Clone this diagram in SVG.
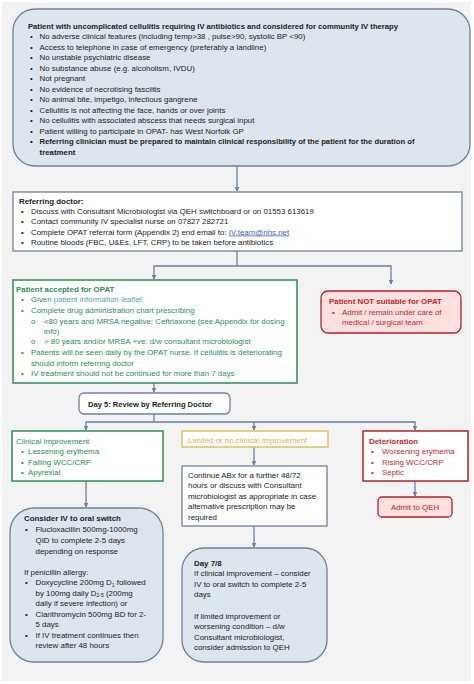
<svg xmlns="http://www.w3.org/2000/svg" width="474" height="684" viewBox="0 0 474 684">
<defs>
<marker id="ah" viewBox="0 0 8 8" refX="7" refY="4" markerWidth="5" markerHeight="5" orient="auto" markerUnits="userSpaceOnUse"><path d="M0,0 L8,4 L0,8 z" fill="#6a80a0"/></marker>
<style>
text{font-family:"Liberation Sans",Arial,sans-serif;font-size:7.9px;fill:#222}
.b{font-weight:bold}
.g{fill:#2e8b57}
.r{fill:#c0282d}
.y{fill:#d8b34a}
.lk{fill:#4aa3c4}
.u{fill:#4a5fa8;text-decoration:underline}
.bl{fill:#dde5ef;stroke:#6f8199;stroke-width:1.3}
.wb{fill:#fff;stroke:#6f8199;stroke-width:1.3}
.gb{fill:#fff;stroke:#2e8b57;stroke-width:1.5}
.rb{fill:#fde0e0;stroke:#b0252d;stroke-width:1.3}
.rw{fill:#fff;stroke:#b0252d;stroke-width:1.5}
.yb{fill:#fff;stroke:#e0c060;stroke-width:1.5}
.c{fill:none;stroke:#6a80a0;stroke-width:1.3}
</style>
</defs>
<rect x="0" y="0" width="474" height="684" fill="#fff"/>
<rect x="2" y="2" width="469" height="679" fill="#f3f3f3"/>

<g id="connectors">
<path class="c" d="M237,166 V191" marker-end="url(#ah)"/>
<path class="c" d="M237,251 V266 H154 V279" marker-end="url(#ah)"/>
<path class="c" d="M237,266 H391 V284" marker-end="url(#ah)"/>
<path class="c" d="M154,383 V392" marker-end="url(#ah)"/>
<path class="c" d="M154,414 V422 H86 V430" marker-end="url(#ah)"/>
<path class="c" d="M154,422 H415 V430" marker-end="url(#ah)"/>
<path class="c" d="M254,422 V430" marker-end="url(#ah)"/>
<path class="c" d="M86,481 V507" marker-end="url(#ah)"/>
<path class="c" d="M254,447 V465" marker-end="url(#ah)"/>
<path class="c" d="M254,526 V547" marker-end="url(#ah)"/>
<path class="c" d="M415,481 V496" marker-end="url(#ah)"/>
</g>

<g id="criteria">
<rect class="bl" x="13" y="9" width="457" height="157" rx="22"/>
<text class="b" x="28" y="28.5" textLength="370" lengthAdjust="spacingAndGlyphs">Patient with uncomplicated cellulitis requiring IV antibiotics and considered for community IV therapy</text>
<g>
<text x="30" y="39">•</text><text x="39.5" y="39">No adverse clinical features (including temp&gt;38 , pulse&gt;90, systolic BP &lt;90)</text>
<text x="30" y="49.5">•</text><text x="39.5" y="49.5">Access to telephone  in case of emergency  (preferably a landline)</text>
<text x="30" y="60">•</text><text x="39.5" y="60">No unstable psychiatric disease</text>
<text x="30" y="70.5">•</text><text x="39.5" y="70.5">No substance abuse (e.g. alcoholism, IVDU)</text>
<text x="30" y="81">•</text><text x="39.5" y="81">Not pregnant</text>
<text x="30" y="91.5">•</text><text x="39.5" y="91.5">No evidence of necrotising fasciitis</text>
<text x="30" y="102">•</text><text x="39.5" y="102">No animal bite, impetigo, infectious gangrene</text>
<text x="30" y="112.5">•</text><text x="39.5" y="112.5">Cellulitis is not affecting the face, hands or over joints</text>
<text x="30" y="123">•</text><text x="39.5" y="123">No cellulitis with associated abscess that needs surgical input</text>
<text x="30" y="133.5">•</text><text x="39.5" y="133.5">Patient willing to participate in OPAT- has West Norfolk GP</text>
<text class="b" x="30" y="144">•</text><text class="b" x="39.5" y="144" textLength="375" lengthAdjust="spacingAndGlyphs">Referring clinician  must be prepared to maintain clinical  responsibility  of the patient for the duration of</text>
<text class="b" x="39.5" y="154.5">treatment</text>
</g>
</g>

<g id="referring">
<rect class="wb" x="13" y="192" width="449" height="59"/>
<text class="b" x="19" y="203.5">Referring doctor:</text>
<text x="21" y="214">•</text><text x="31" y="214">Discuss with Consultant Microbiologist via QEH switchboard or on 01553 613619</text>
<text x="21" y="224">•</text><text x="31" y="224">Contact community  IV specialist nurse on 07827 282721</text>
<text x="21" y="234.5">•</text><text x="31" y="234.5">Complete  OPAT referral form (Appendix 2) end email to: <tspan class="u">IV.team@nhs.net</tspan></text>
<text x="21" y="245">•</text><text x="31" y="245">Routine bloods (FBC, U&amp;Es, LFT,  CRP) to be taken before antibiotics</text>
</g>

<g id="accepted">
<rect class="gb" x="13" y="280" width="284" height="103"/>
<text class="b g" x="16" y="292">Patient accepted for OPAT</text>
<text class="g" x="21" y="302">•</text><text class="g" x="31" y="302">Given <tspan class="lk">patient information leaflet</tspan></text>
<text class="g" x="21" y="313">•</text><text class="g" x="31" y="313">Complete  drug administration chart prescribing</text>
<text class="g" x="31" y="323.5">o</text><text class="g" x="44" y="323.5">&lt;80 years and MRSA  negative:  Ceftriaxone (see Appendix for dosing</text>
<text class="g" x="44" y="334">info)</text>
<text class="g" x="31" y="344">o</text><text class="g" x="44" y="344">&gt; 80 years and/or MRSA  +ve:  d/w consultant microbiologist</text>
<text class="g" x="21" y="355">•</text><text class="g" x="31" y="355">Patients will be seen  daily by the OPAT nurse.  If cellulitis is deteriorating</text>
<text class="g" x="31" y="365.5">should inform referring doctor</text>
<text class="g" x="21" y="376">•</text><text class="g" x="31" y="376">IV treatment  should not be  continued for more than 7 days</text>
</g>

<g id="notsuitable">
<rect class="rb" x="321" y="291" width="140" height="42" rx="7"/>
<text class="b r" x="329" y="304">Patient NOT suitable for OPAT</text>
<text class="r" x="332" y="314.5">•</text><text class="r" x="342" y="314.5">Admit / remain under care of</text>
<text class="r" x="342" y="325">medical / surgical team</text>
</g>

<g id="day5">
<rect class="wb" x="79" y="393" width="151" height="21" rx="5"/>
<text class="b" x="88" y="407" textLength="124" lengthAdjust="spacingAndGlyphs">Day 5: Review by Referring Doctor</text>
</g>

<g id="improvement">
<rect class="gb" x="12" y="431" width="151" height="50"/>
<text class="g" x="16" y="444">Clinical improvement</text>
<text class="g" x="21" y="454">•</text><text class="g" x="28" y="454">Lessening erythema</text>
<text class="g" x="21" y="464.5">•</text><text class="g" x="28" y="464.5">Falling WCC/CRP</text>
<text class="g" x="21" y="475">•</text><text class="g" x="28" y="475">Apyrexial</text>
</g>

<g id="limited">
<rect class="yb" x="182" y="431" width="146" height="16"/>
<text class="y" x="188" y="443">Limited or no clinical improvement</text>
</g>

<g id="deterioration">
<rect class="rw" x="363" y="431" width="105" height="50"/>
<text class="b r" x="369" y="444">Deterioration</text>
<text class="r" x="371" y="454">•</text><text class="r" x="382" y="454">Worsening erythema</text>
<text class="r" x="371" y="464.5">•</text><text class="r" x="382" y="464.5">Rising WCC/CRP</text>
<text class="r" x="371" y="475">•</text><text class="r" x="382" y="475">Septic</text>
</g>

<g id="continue">
<rect class="wb" x="182" y="466" width="145" height="60"/>
<text x="188" y="477.5">Continue ABx for a further  48/72</text>
<text x="188" y="488">hours or discuss with Consultant</text>
<text x="188" y="498.5">microbiologist as appropriate in case</text>
<text x="188" y="509">alternative prescription may be</text>
<text x="188" y="519.5">required</text>
</g>

<g id="admit">
<rect class="rb" x="378" y="497" width="74" height="20" rx="4"/>
<text class="r" x="415" y="510" text-anchor="middle">Admit to QEH</text>
</g>

<g id="oralswitch">
<rect class="bl" x="10" y="508" width="153" height="154" rx="24"/>
<text class="b" x="24" y="521">Consider IV  to oral switch</text>
<text x="25" y="532">•</text><text x="35.5" y="532">Flucloxacillin 500mg-1000mg</text>
<text x="35.5" y="542.5">QID to complete  2-5 days</text>
<text x="35.5" y="553.5">depending on response</text>
<text x="24" y="574.5">If penicillin allergy:</text>
<text x="25" y="585">•</text><text x="35.5" y="585">Doxycycline 200mg D<tspan font-size="5" dy="1.5">1</tspan><tspan dy="-1.5"> followed</tspan></text>
<text x="35.5" y="595.5">by 100mg daily D<tspan font-size="5" dy="1.5">2-5</tspan><tspan dy="-1.5"> (200mg</tspan></text>
<text x="35.5" y="606">daily if severe infection) or</text>
<text x="25" y="616.5">•</text><text x="35.5" y="616.5">Clarithromycin 500mg BD for 2-</text>
<text x="35.5" y="627">5 days</text>
<text x="25" y="637.5">•</text><text x="35.5" y="637.5">If IV treatment  continues then</text>
<text x="35.5" y="648">review after  48 hours</text>
</g>

<g id="day78">
<rect class="bl" x="182" y="548" width="145" height="114" rx="22"/>
<text class="b" x="194" y="566">Day 7/8</text>
<text x="194" y="576">If clinical improvement – consider</text>
<text x="194" y="587">IV to oral switch to complete  2-5</text>
<text x="194" y="597">days</text>
<text x="194" y="618.5">If limited improvement  or</text>
<text x="194" y="629">worsening condition – d/w</text>
<text x="194" y="639.5">Consultant microbiologist,</text>
<text x="194" y="650">consider admission to QEH</text>
</g>
</svg>
